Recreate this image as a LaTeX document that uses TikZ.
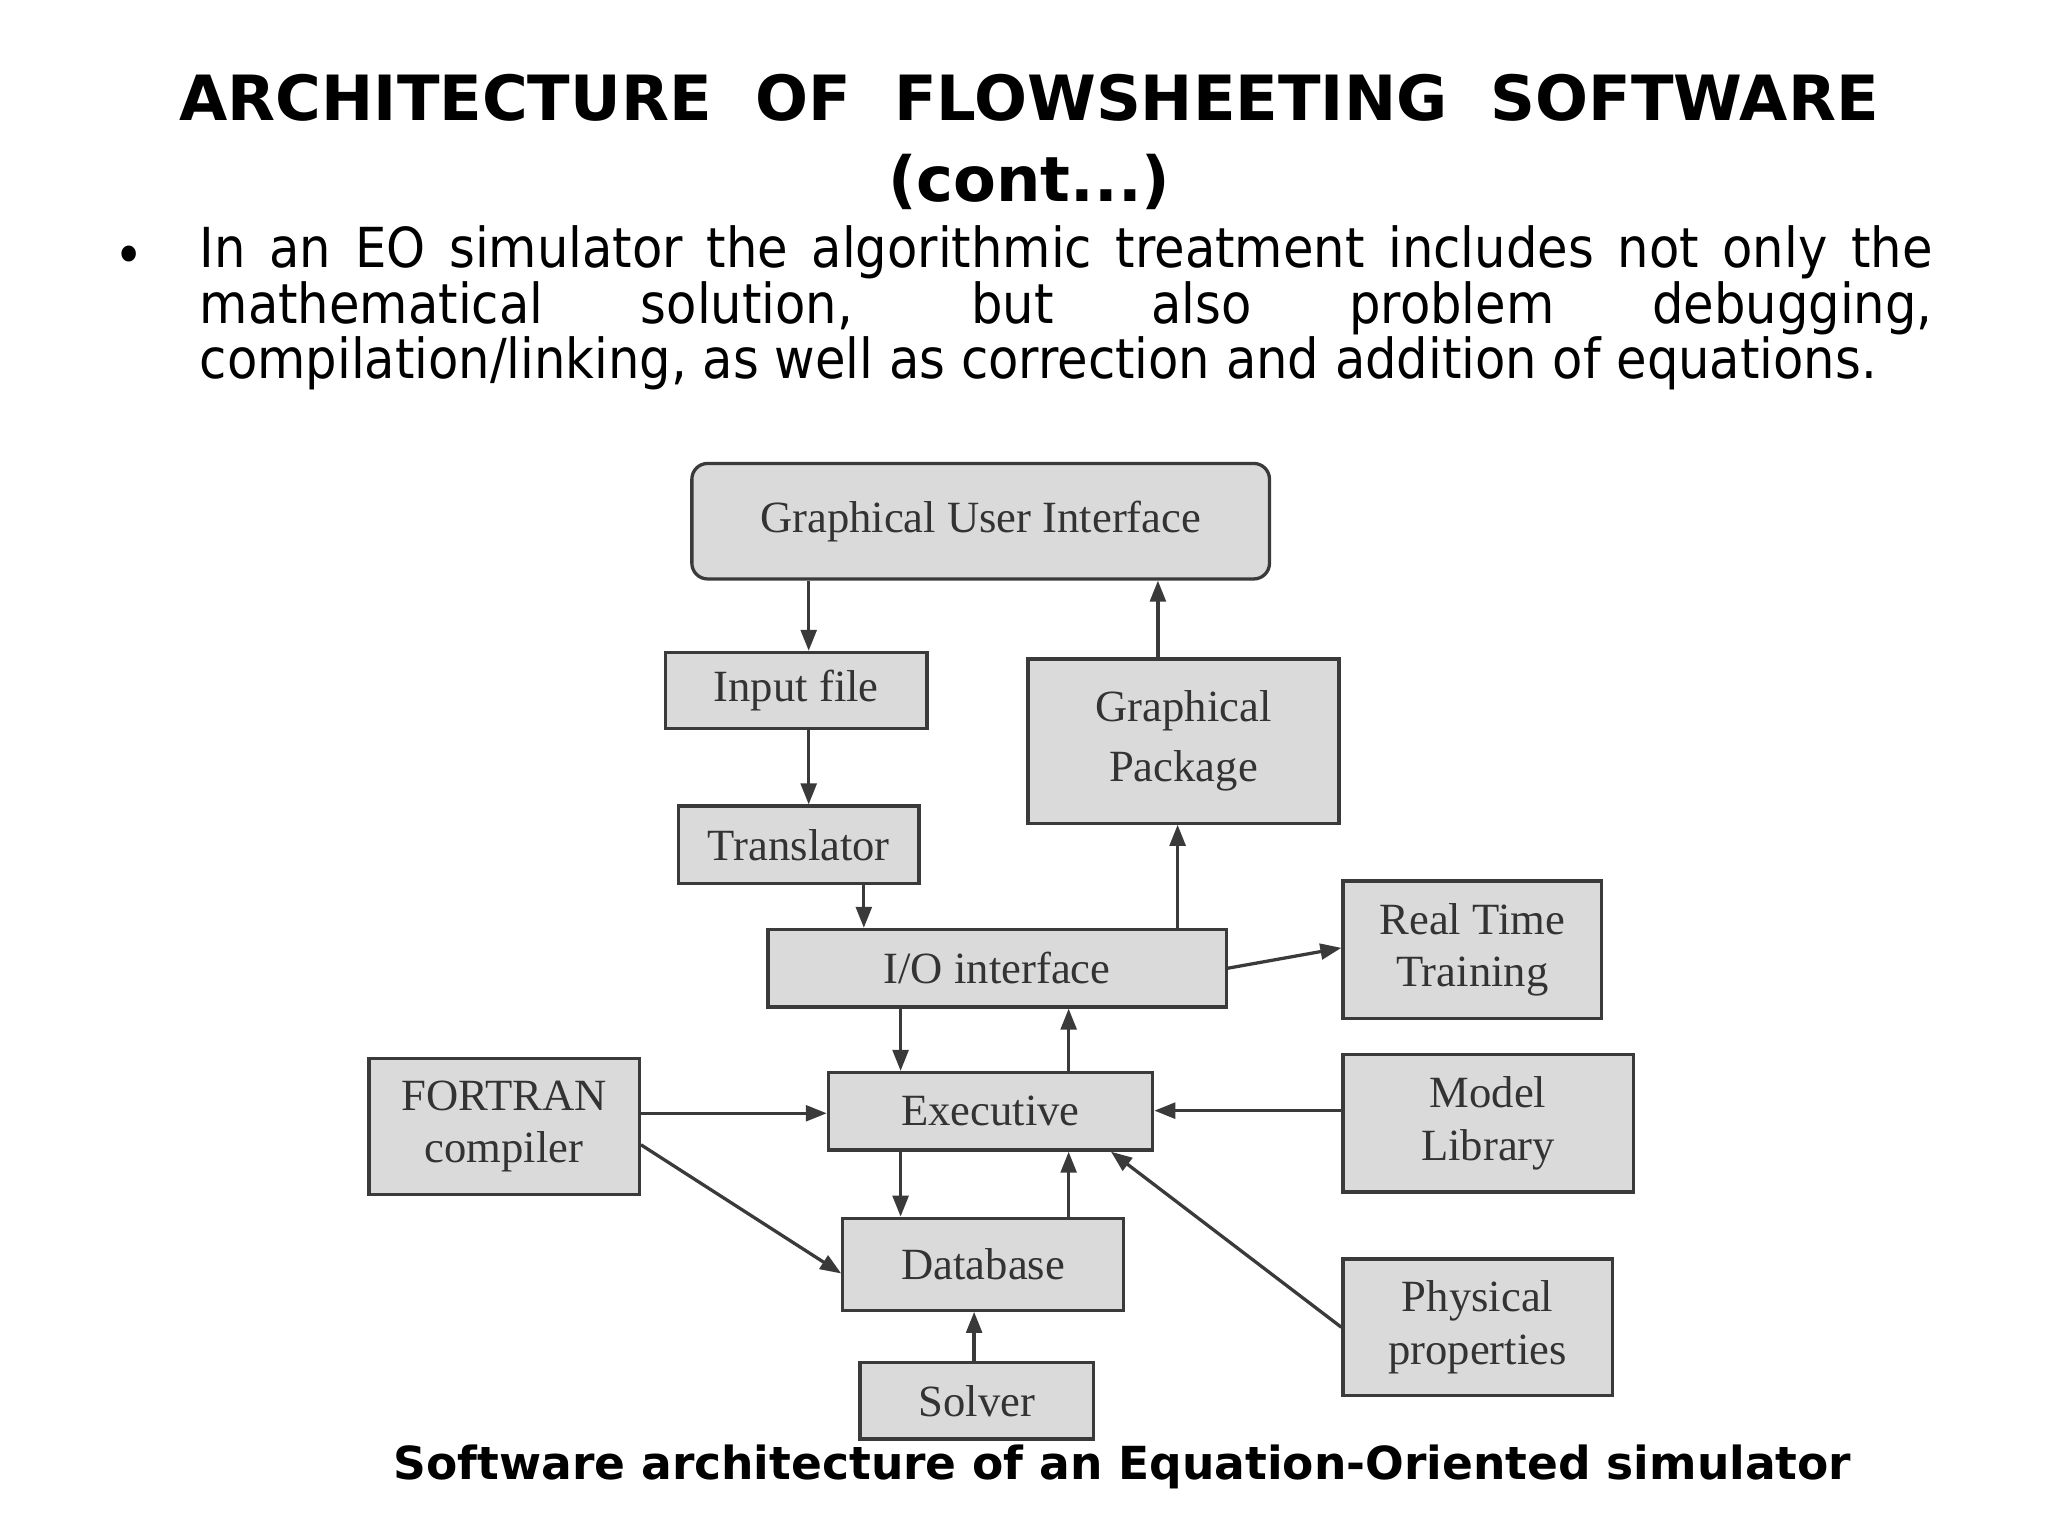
\documentclass[tikz,border=0pt]{standalone}
\usepackage{fontspec}
\setmainfont{Liberation Serif}
\newfontfamily\tfont{DejaVu Sans}
\newfontfamily\bfont{DejaVu Sans Condensed}
\usetikzlibrary{arrows.meta}
\definecolor{bx}{HTML}{DADADA}
\definecolor{ln}{HTML}{3A3A3A}
\definecolor{tx}{HTML}{333333}
\begin{document}
\begin{tikzpicture}[x=1pt,y=-1pt,
  bx/.style={draw=ln,line width=2.5pt,fill=bx,text=tx,font=\fontsize{34}{40}\selectfont,inner sep=0pt,align=center},
  ar/.style={draw=ln,line width=2.5pt,-{Triangle[length=16pt,width=12pt]}}]
\useasboundingbox (0,0) rectangle (1560,1170);
\node[font=\tfont\bfseries\fontsize{47.5}{62}\selectfont,align=center] (title) at (784,108) {ARCHITECTURE\ \ OF\ \ FLOWSHEETING\ \ SOFTWARE\\(cont...)};
\node[font=\bfont\fontsize{42}{42}\selectfont] (bul) at (98,198) {•};
\node[font=\bfont\fontsize{42}{42}\selectfont,text width=1320pt,align=justify,inner sep=0pt,anchor=north west] (body) at (152,172) {\hyphenpenalty=10000 In an EO simulator the algorithmic treatment includes not only the\linebreak mathematical solution, but also problem debugging,\linebreak compilation/linking, as well as correction and addition of equations.};
\node[bx,rounded corners=12pt,minimum width=440pt,minimum height=88pt] (gui) at (747,397) {Graphical User Interface};
\node[bx,minimum width=199pt,minimum height=58pt] (inp) at (606.5,526) {Input file};
\node[bx,minimum width=237pt,minimum height=125pt] (gp) at (901.5,564.5) {Graphical\\[6pt]Package};
\node[bx,minimum width=183pt,minimum height=59pt] (tr) at (608.5,643.5) {Translator};
\node[bx,minimum width=349pt,minimum height=59pt] (io) at (759.5,737.5) {I/O interface};
\node[bx,minimum width=197pt,minimum height=105pt] (rtt) at (1121.5,723.5) {Real Time\\Training};
\node[bx,minimum width=206pt,minimum height=104pt] (fc) at (384,858) {FORTRAN\\compiler};
\node[bx,minimum width=247pt,minimum height=59pt] (ex) at (754.5,846.5) {Executive};
\node[bx,minimum width=221pt,minimum height=105pt] (ml) at (1133.5,855.5) {Model\\Library};
\node[bx,minimum width=214pt,minimum height=70pt] (db) at (749,963) {Database};
\node[bx,minimum width=205pt,minimum height=104pt] (pp) at (1125.5,1011) {Physical\\properties};
\node[bx,minimum width=178pt,minimum height=58pt] (so) at (744,1067) {Solver};
\node[font=\tfont\bfseries\fontsize{34.7}{40}\selectfont] (cap) at (855,1117) {Software architecture of an Equation-Oriented simulator};
\draw[ar] ([xshift=-131pt]gui.south) -- ([xshift=9.5pt]inp.north);
\draw[ar] ([xshift=9.5pt]inp.south) -- ([xshift=7.5pt]tr.north);
\draw[ar] ([xshift=49.5pt]tr.south) -- ([xshift=-101.5pt]io.north);
\draw[ar] ([xshift=137.5pt]io.north) -- ([xshift=-4.5pt]gp.south);
\draw[ar] ([xshift=-19.5pt]gp.north) -- ([xshift=135pt]gui.south);
\draw[ar] (io.east) -- ([yshift=1.5pt]rtt.west);
\draw[ar] ([xshift=-73.5pt]io.south) -- ([xshift=-68.5pt]ex.north);
\draw[ar] ([xshift=59.5pt]ex.north) -- ([xshift=54.5pt]io.south);
\draw[ar] ([yshift=10pt]fc.east) -- ([yshift=-1.5pt]ex.west);
\draw[ar] ([yshift=9.5pt]ml.west) -- ([yshift=0.5pt]ex.east);
\draw[ar] ([yshift=-14pt]fc.east) -- ([yshift=-7pt]db.west);
\draw[ar] ([xshift=-68.5pt]ex.south) -- ([xshift=-63pt]db.north);
\draw[ar] ([xshift=65pt]db.north) -- ([xshift=59.5pt]ex.south);
\draw[ar] (pp.west) -- ([xshift=-33pt]ex.south east);
\draw[ar] ([xshift=-2pt]so.north) -- ([xshift=-7pt]db.south);
\end{tikzpicture}
\end{document}
